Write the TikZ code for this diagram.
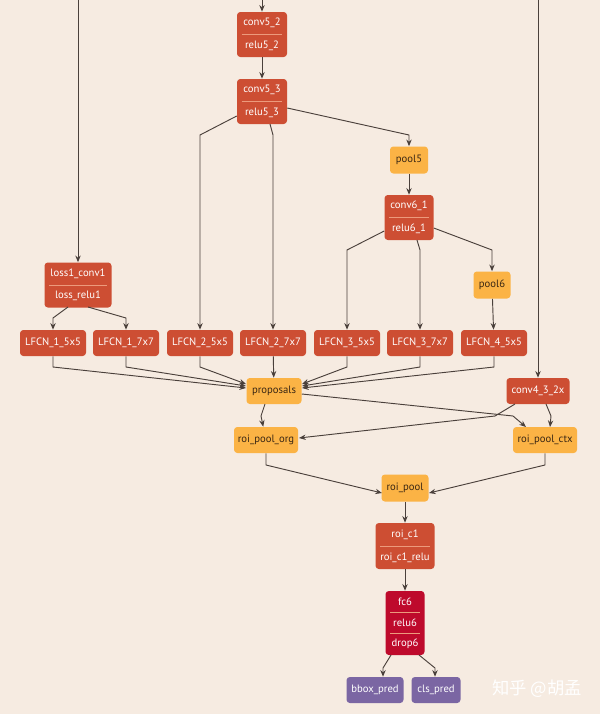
\documentclass[tikz,border=0pt]{standalone}
\usepackage{fontspec}
\setmainfont{PT Sans}
\usetikzlibrary{arrows.meta,calc}
\definecolor{bg}{HTML}{F6EBE1}
\definecolor{cred}{HTML}{CD4E33}
\definecolor{cyel}{HTML}{FBB345}
\definecolor{cdark}{HTML}{BE0A2C}
\definecolor{cpur}{HTML}{7B66A3}
\definecolor{cline}{HTML}{4A403B}
\definecolor{csep}{HTML}{EC9A7C}
\tikzset{
 base/.style={rounded corners=2.5pt,inner sep=0pt,font=\fontsize{8}{9}\selectfont},
 redbox/.style={base,fill=cred,text=white},
 yelbox/.style={base,fill=cyel,text=black!70!brown},
 darkbox/.style={base,fill=cdark,text=white},
 purbox/.style={base,fill=cpur,text=white},
 wtxt/.style={text=white,inner sep=0pt,font=\fontsize{8}{9}\selectfont},
 sep/.style={csep,line width=0.5pt},
 conn/.style={cline,line width=0.7pt,-{Stealth[length=5pt,width=4pt]}},
}
\newcommand\twobox[7]{%
 \node[redbox,minimum width=#4*0.75pt,minimum height=#5*0.75pt] (#1) at (#2,#3) {};
 \node[wtxt] at (#2,#3-#5/4) {#6};
 \node[wtxt] at (#2,#3+#5/4) {#7};
 \draw[sep] ($(#1.west)+(5,0)$) -- ($(#1.east)+(-5,0)$);}
\newcommand\onebox[7]{%
 \node[#7,minimum width=#4*0.75pt,minimum height=#5*0.75pt] (#1) at (#2,#3) {#6};}
\begin{document}
\begin{tikzpicture}[x=0.75pt,y=-0.75pt]
\fill[bg] (0,0) rectangle (600,714);
\useasboundingbox (0,0) rectangle (600,714);
\coordinate (tl) at (78,0);
\coordinate (tm) at (262,0);
\coordinate (tr) at (538,0);
\twobox{c52}{262}{34.5}{50}{45}{conv5\_2}{relu5\_2}
\twobox{c53}{262}{101.5}{50}{45}{conv5\_3}{relu5\_3}
\onebox{p5}{409}{160}{38}{27}{pool5}{yelbox}
\twobox{c61}{409}{217.5}{49}{45}{conv6\_1}{relu6\_1}
\twobox{l1}{78}{285}{67}{45}{loss1\_conv1}{loss\_relu1}
\onebox{p6}{492}{285}{37}{27}{pool6}{yelbox}
\onebox{a}{53}{343}{66}{26}{LFCN\_1\_5x5}{redbox}
\onebox{b}{126}{343}{66}{26}{LFCN\_1\_7x7}{redbox}
\onebox{c}{200}{343}{66}{26}{LFCN\_2\_5x5}{redbox}
\onebox{d}{273}{343}{66}{26}{LFCN\_2\_7x7}{redbox}
\onebox{e}{347}{343}{66}{26}{LFCN\_3\_5x5}{redbox}
\onebox{f}{420}{343}{66}{26}{LFCN\_3\_7x7}{redbox}
\onebox{g}{494}{343}{66}{26}{LFCN\_4\_5x5}{redbox}
\onebox{prop}{274}{391}{55}{26}{proposals}{yelbox}
\onebox{c43}{538}{391}{63}{26}{conv4\_3\_2x}{redbox}
\onebox{rpo}{266}{440}{64}{26}{roi\_pool\_org}{yelbox}
\onebox{rpc}{545}{440}{64}{26}{roi\_pool\_ctx}{yelbox}
\onebox{rp}{405}{488}{47}{27}{roi\_pool}{yelbox}
\twobox{rc}{405}{546}{59}{46}{roi\_c1}{roi\_c1\_relu}
\node[darkbox,minimum width=39*0.75pt,minimum height=64*0.75pt] (fc) at (405,623) {};
\node[wtxt] at (405,602) {fc6};
\node[wtxt] at (405,623) {relu6};
\node[wtxt] at (405,644) {drop6};
\draw[sep] ($(fc.west)+(5,-10.5)$) -- ($(fc.east)+(-5,-10.5)$);
\draw[sep] ($(fc.west)+(5,10.5)$) -- ($(fc.east)+(-5,10.5)$);
\onebox{bb}{375}{690}{57}{26}{bbox\_pred}{purbox}
\onebox{cls}{436}{690}{49}{26}{cls\_pred}{purbox}
\node[text=white,font=\fontsize{13}{15}\selectfont] (wm) at (537,689) {\fontspec{Noto Sans CJK SC}知乎 @胡孟};
% connectors
\draw[conn] (tl) -- (l1);
\draw[conn] (tm) -- (c52);
\draw[conn] (tr) -- (c43);
\draw[conn] (c52) -- (c53);
\draw[conn] (c53.west |- 0,116) -- (200,135) -- (c);
\draw[conn] (270,124) -- (273,135) -- (d);
\draw[conn] (c53.east |- 0,108) -- (409,135) -- (p5);
\draw[conn] (p5) -- (c61);
\draw[conn] (c61.west |- 0,231) -- (347,250) -- (e);
\draw[conn] (417,240) -- (420,250) -- (f);
\draw[conn] (c61.east |- 0,228) -- (492,250) -- (p6);
\draw[conn] (p6) -- (g);
\draw[conn] (68,307) -- (53,318) -- (a);
\draw[conn] (88,307) -- (126,318) -- (b);
\draw[conn] (a) -- (53,367) -- (246,388);
\draw[conn] (b) -- (126,367) -- (246,386);
\draw[conn] (c) -- (200,367) -- (246,384);
\draw[conn] (d) -- (prop);
\draw[conn] (e) -- (347,367) -- (302,384);
\draw[conn] (f) -- (420,367) -- (302,386);
\draw[conn] (g) -- (494,367) -- (302,388);
\draw[conn] (265,404) -- (261,416) -- (rpo);
\draw[conn] (prop.east |- 0,394) -- (513,416) -- (526,427);
\draw[conn] (515,404) -- (495,416) -- (299,438);
\draw[conn] (546,404) -- (551,416) -- (550,427);
\draw[conn] (rpo) -- (266,465) -- (382,493);
\draw[conn] (rpc) -- (545,465) -- (429,493);
\draw[conn] (rp) -- (rc);
\draw[conn] (rc) -- (fc);
\draw[conn] (391,655) -- (383,668) -- (bb.north -| 383,0);
\draw[conn] (419,655) -- (435,668) -- (cls.north -| 435,0);
\end{tikzpicture}
\end{document}
